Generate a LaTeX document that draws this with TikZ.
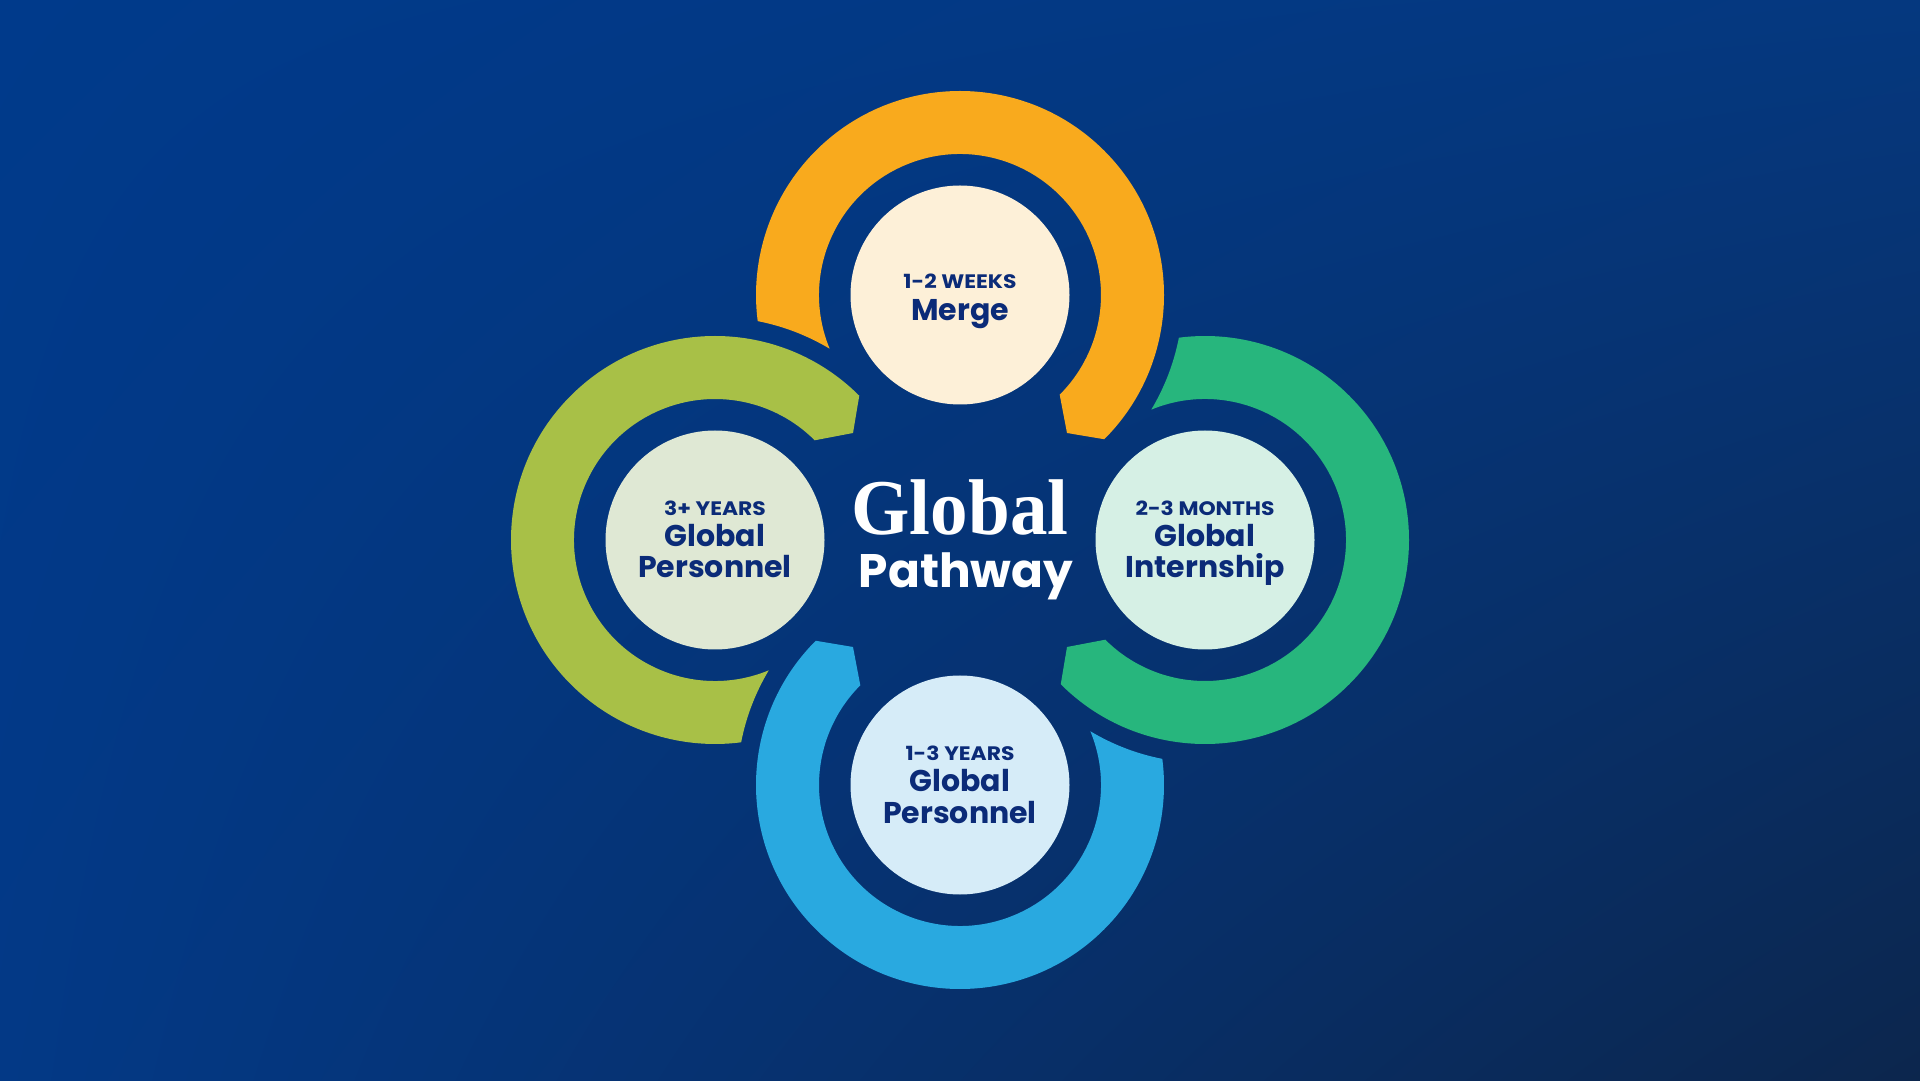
\documentclass[tikz,border=0pt]{standalone}
\usepackage{fontspec}
\setmainfont{Liberation Serif}
\setsansfont{Poppins}
\newfontfamily\smallfont[FakeStretch=1.12]{Poppins}
\newfontfamily\titleserif[FakeStretch=0.95]{Liberation Serif}
\usetikzlibrary{shadings}
\definecolor{bgTL}{HTML}{003A8B}
\definecolor{bgTR}{HTML}{05387F}
\definecolor{bgBL}{HTML}{033986}
\definecolor{bgBR}{HTML}{0C264D}
\definecolor{cOrange}{HTML}{F9AA1D}
\definecolor{cLime}{HTML}{A8C047}
\definecolor{cGreen}{HTML}{27B67D}
\definecolor{cBlue}{HTML}{29A9E0}
\definecolor{lOrange}{HTML}{FDF0D8}
\definecolor{lLime}{HTML}{DFE8D4}
\definecolor{lGreen}{HTML}{D6F0E5}
\definecolor{lBlue}{HTML}{D6ECF8}
\definecolor{navy}{HTML}{0B2B78}
\newcommand\ringseg[5]{%
  \fill[#1] ([shift={({202.4+#4}:141)}]#2,#3)
    arc[start angle={202.4+#4}, end angle={-45+#4}, radius=141]
    -- (#5)
    -- ([shift={({-45+#4}:204)}]#2,#3)
    arc[start angle={-45+#4}, end angle={187.36+#4}, radius=204]
    arc[start angle={78.96+#4}, end angle={59.07+#4}, radius=223]
    -- cycle;}
\tikzset{
  disc/.style={circle, inner sep=0pt, minimum size=219pt, fill=#1},
  small/.style={anchor=base, inner sep=0pt, text=navy, font=\smallfont\bfseries\fontsize{19.5}{20}\selectfont},
  big/.style={anchor=base, inner sep=0pt, text=navy, font=\sffamily\bfseries\fontsize{30}{31}\selectfont},
}
\begin{document}
\begin{tikzpicture}[x=1pt,y=1pt]
\useasboundingbox (0,0) rectangle (1920,1080);
\shade[upper left=bgTL, upper right=bgTR, lower left=bgBL, lower right=bgBR] (0,0) rectangle (1920,1080);
% ring segments
\ringseg{cOrange}{960}{785}{0}{1067,647}
\ringseg{cLime}{715}{540}{90}{853,647}
\ringseg{cBlue}{960}{295}{180}{853,433}
\ringseg{cGreen}{1205}{540}{270}{1067,433}
% light discs
\node[disc=lOrange] (dTop) at (960,785) {};
\node[disc=lLime] (dLeft) at (715,540) {};
\node[disc=lBlue] (dBottom) at (960,295) {};
\node[disc=lGreen] (dRight) at (1205,540) {};
% texts
\node[small] (tTopA) at (960,791) {1-2 WEEKS};
\node[big] (tTopB) at (960,759) {Merge};
\node[small] (tLeftA) at (715,564) {3+ YEARS};
\node[big] (tLeftB) at (715,533) {Global};
\node[big] (tLeftC) at (715,502) {Personnel};
\node[small] (tRightA) at (1205,564) {2-3 MONTHS};
\node[big] (tRightB) at (1205,533) {Global};
\node[big] (tRightC) at (1205,502) {Internship};
\node[small] (tBotA) at (960,319) {1-3 YEARS};
\node[big] (tBotB) at (960,288) {Global};
\node[big] (tBotC) at (960,257) {Personnel};
% centre title
\node[anchor=base, inner sep=0pt, text=white, font=\titleserif\bfseries\fontsize{79}{79}\selectfont] (title1) at (960,545) {Global};
\node[anchor=base, inner sep=0pt, text=white, font=\sffamily\bfseries\fontsize{47}{47}\selectfont] (title2) at (966,492) {Pathway};
\end{tikzpicture}
\end{document}
